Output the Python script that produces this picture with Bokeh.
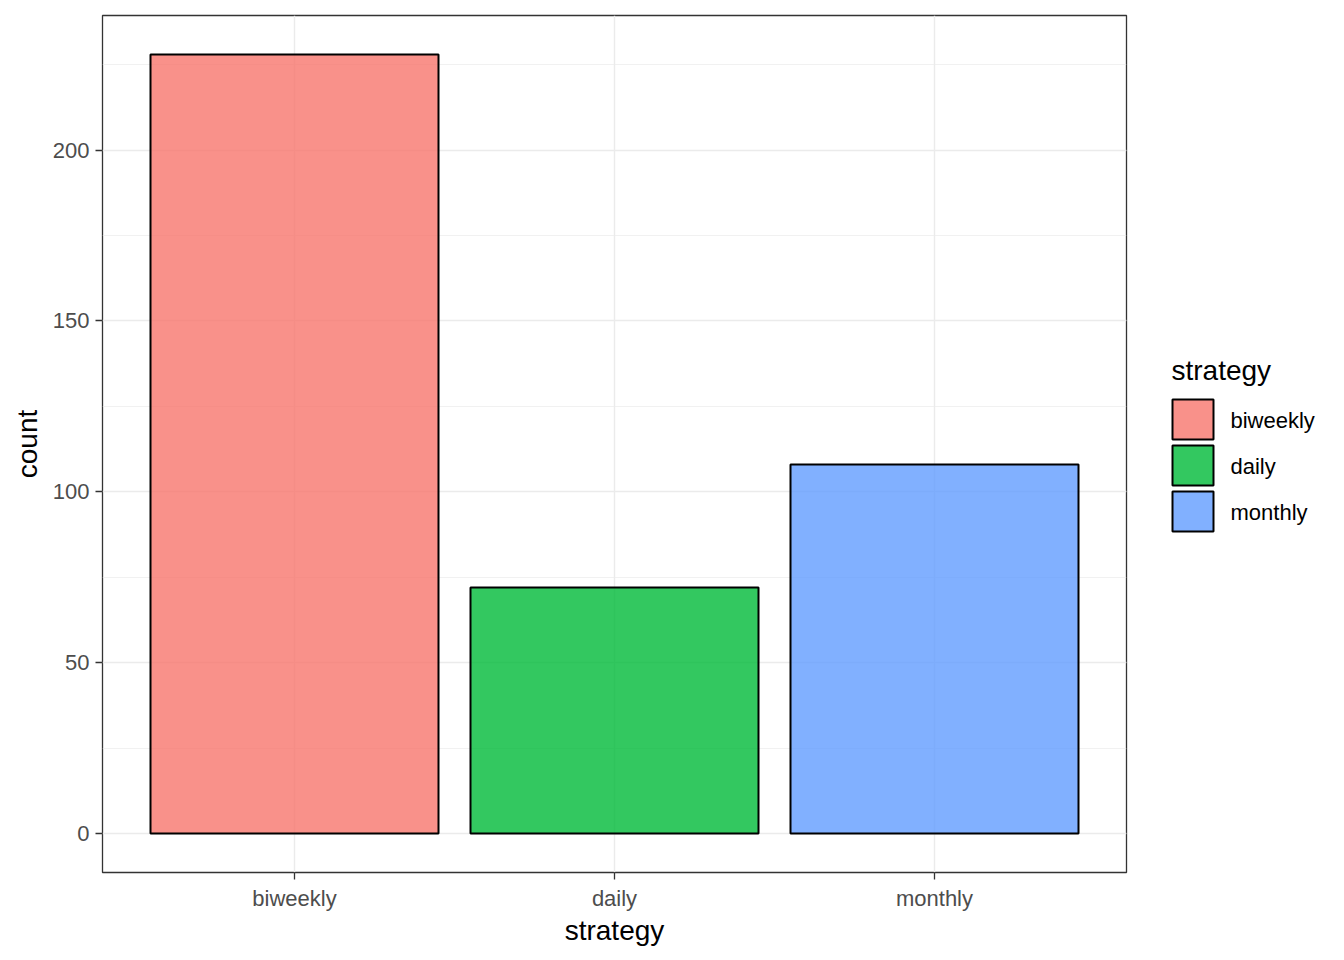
from bokeh.plotting import figure
from bokeh.layouts import row
from bokeh.models import (Range1d, FixedTicker, SingleIntervalTicker,
                          ColumnDataSource)
from bokeh.core.properties import value
from bokeh.embed import file_html
from bokeh.resources import INLINE

# Number of cases per rebalancing strategy
strategies = ["biweekly", "daily", "monthly"]
counts = [228, 72, 108]
fill_colors = ["#F8766D", "#00BA38", "#619CFF"]

FONT = "Liberation Sans"
FILL_ALPHA = 0.8
positions = list(range(1, len(strategies) + 1))
ymax = max(counts)
pad = 0.05 * ymax

# shared outer geometry so both panels line up
TOP, BOTTOM, FRAME_H = 15, 88, 857

# ---- main bar panel ----
p = figure(
    frame_width=1024, frame_height=FRAME_H,
    x_range=Range1d(0.4, len(strategies) + 0.6),
    y_range=Range1d(-pad, ymax + pad),
    output_backend="svg", toolbar_location=None,
    min_border_left=102, min_border_top=TOP, min_border_bottom=BOTTOM,
    min_border_right=20,
    background_fill_color="white", border_fill_color="white",
)

bars = ColumnDataSource(dict(x=positions, top=counts, color=fill_colors))
p.vbar(x="x", top="top", bottom=0, width=0.9, source=bars,
       fill_color="color", fill_alpha=FILL_ALPHA,
       line_color="black", line_width=2)

p.xaxis.ticker = FixedTicker(ticks=positions)
p.xaxis.major_label_overrides = {pos: name for pos, name in zip(positions, strategies)}
p.yaxis.ticker = SingleIntervalTicker(interval=50, num_minor_ticks=2)
p.xaxis.axis_label = "strategy"
p.yaxis.axis_label = "count"

for ax in (p.xaxis[0], p.yaxis[0]):
    ax.axis_line_color = None
    ax.major_tick_out = 7
    ax.major_tick_in = 0
    ax.major_tick_line_color = "#333333"
    ax.major_tick_line_width = 1.3
    ax.minor_tick_line_color = None
    ax.major_label_text_font = FONT
    ax.major_label_text_font_size = "22px"
    ax.major_label_text_color = "#4D4D4D"
    ax.major_label_standoff = 6
    ax.axis_label_text_font = FONT
    ax.axis_label_text_font_size = "28px"
    ax.axis_label_text_font_style = "normal"
    ax.axis_label_text_color = "black"
p.xaxis.axis_label_standoff = 1
p.yaxis.axis_label_standoff = 7

p.xgrid.grid_line_color = "#EBEBEB"
p.xgrid.grid_line_width = 1.4
p.ygrid.grid_line_color = "#EBEBEB"
p.ygrid.grid_line_width = 1.4
p.ygrid.minor_grid_line_color = "#EBEBEB"
p.ygrid.minor_grid_line_width = 0.7

p.outline_line_color = "#333333"
p.outline_line_width = 1.3

# ---- legend column (page-pixel coordinates, y grows downward) ----
LEG_W = 198
key_left, key_w, key_h, key_pitch = 25, 43, 42, 46
first_key_top = 398
leg = figure(
    frame_width=LEG_W, frame_height=FRAME_H,
    x_range=Range1d(0, LEG_W), y_range=Range1d(TOP + FRAME_H, TOP),
    output_backend="svg", toolbar_location=None,
    min_border_left=0, min_border_right=0,
    min_border_top=TOP, min_border_bottom=BOTTOM,
    background_fill_color="white", border_fill_color="white",
)
leg.axis.visible = False
leg.grid.visible = False
leg.outline_line_color = None

key_y = [first_key_top + key_h / 2 + i * key_pitch for i in range(len(strategies))]
keys = ColumnDataSource(dict(
    x=[key_left + key_w / 2] * len(strategies), y=key_y,
    color=fill_colors, label=strategies,
    lx=[key_left + key_w + 16] * len(strategies), ly=[v + 1 for v in key_y],
))
leg.rect(x="x", y="y", width=key_w - 2, height=key_h - 2, source=keys,
         fill_color="color", fill_alpha=FILL_ALPHA,
         line_color="black", line_width=2)
leg.text(x="lx", y="ly", text="label", source=keys,
         text_font=value(FONT), text_font_size="22px", text_color="black",
         text_baseline="middle", text_align="left")
leg.text(x=[key_left], y=[370], text=["strategy"],
         text_font=value(FONT), text_font_size="28px", text_color="black",
         text_baseline="alphabetic", text_align="left")

layout = row(p, leg, spacing=0)
open("out.html", "w").write(file_html(layout, INLINE))
